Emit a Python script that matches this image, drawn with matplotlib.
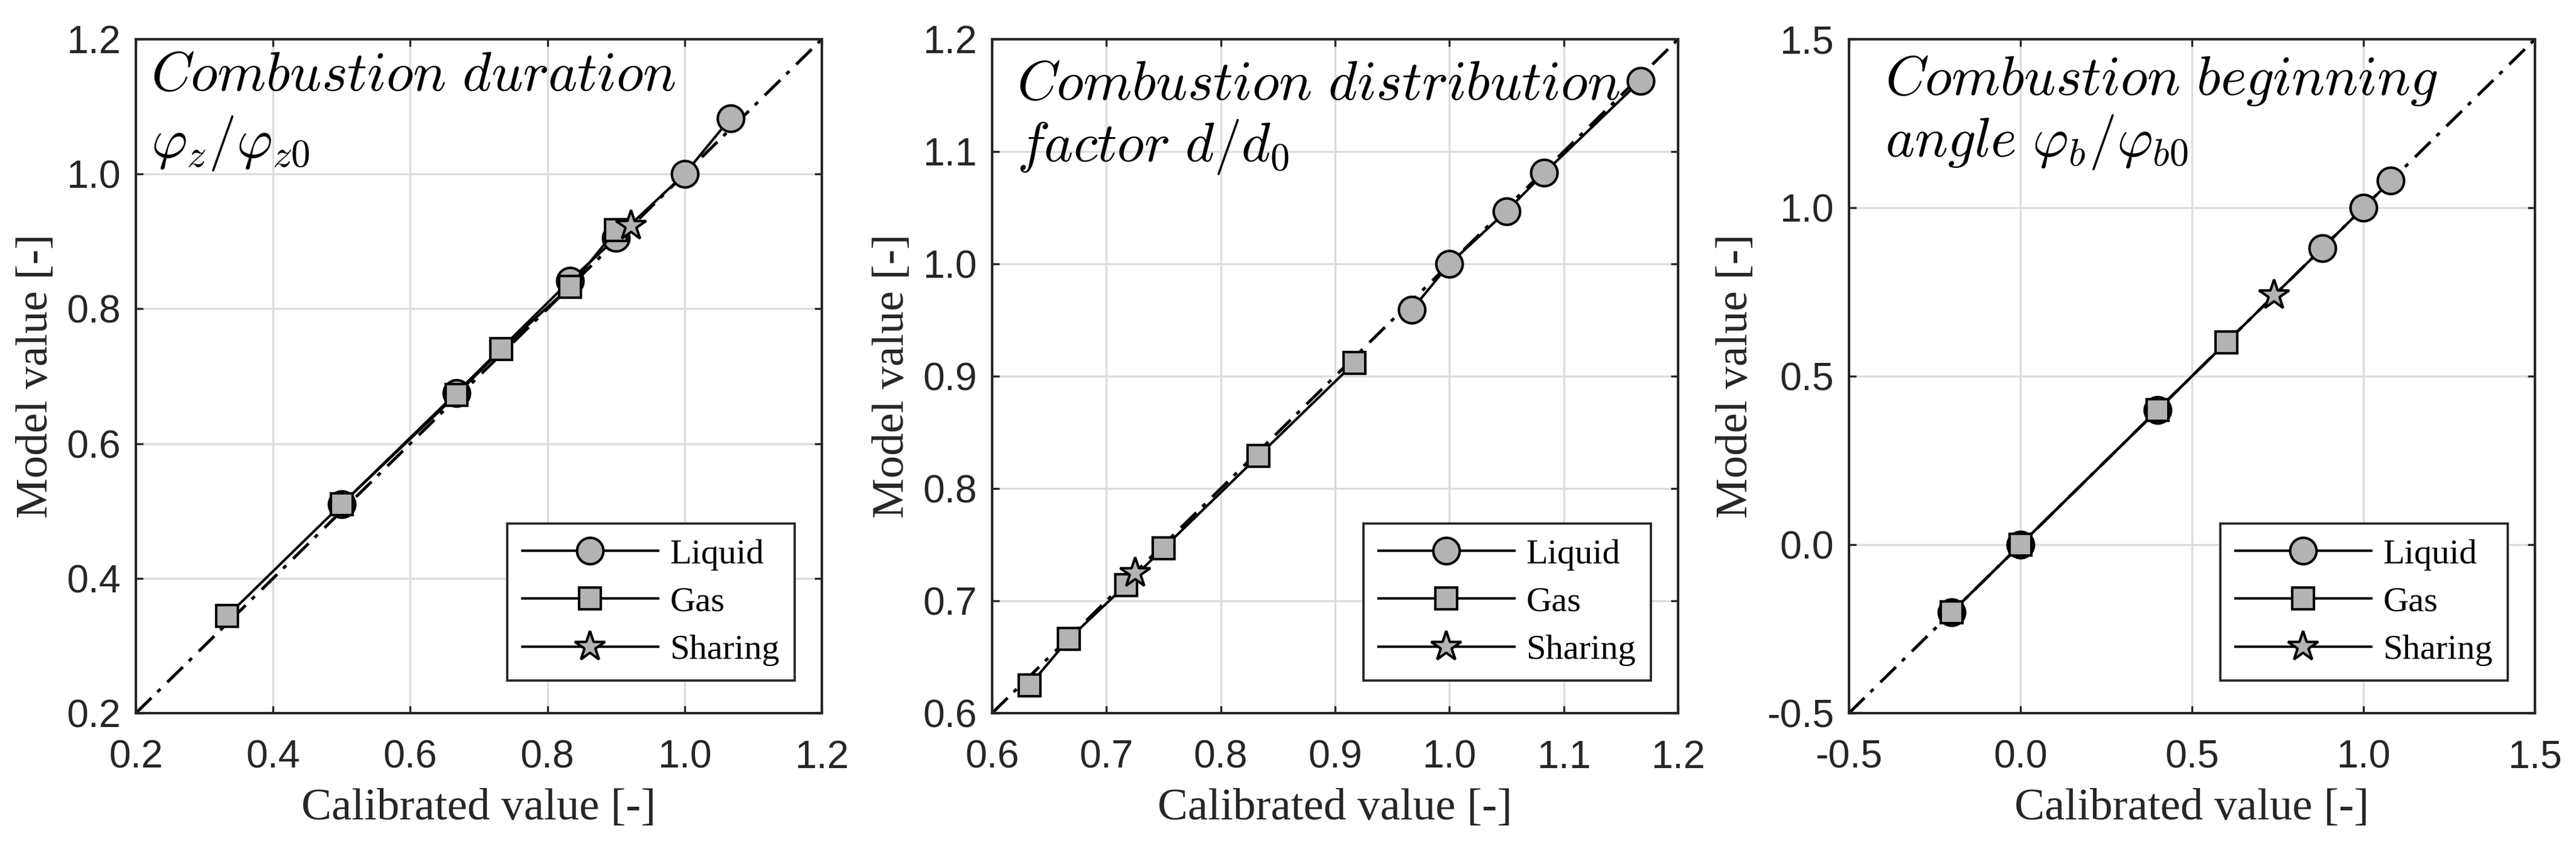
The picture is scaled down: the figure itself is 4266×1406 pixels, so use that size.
import numpy as np
import matplotlib
matplotlib.use("Agg")
import matplotlib.pyplot as plt
from matplotlib.ticker import FormatStrFormatter

plt.rcParams["mathtext.fontset"] = "cm"
plt.rcParams["axes.unicode_minus"] = False

# ---- data ----
# panel 1: combustion duration
p1_liquid_x = [0.500, 0.667, 0.833, 0.900, 1.000, 1.067]
p1_liquid_y = [0.510, 0.675, 0.842, 0.905, 1.000, 1.083]
p1_gas_x = [0.333, 0.500, 0.667, 0.733, 0.833, 0.900]
p1_gas_y = [0.344, 0.510, 0.672, 0.740, 0.833, 0.917]
p1_share_x = [0.922]
p1_share_y = [0.923]

# panel 2: combustion distribution factor
p2_liquid_x = [0.967, 1.000, 1.050, 1.083, 1.167]
p2_liquid_y = [0.959, 1.000, 1.047, 1.081, 1.163]
p2_gas_x = [0.633, 0.667, 0.717, 0.750, 0.833, 0.917]
p2_gas_y = [0.625, 0.666, 0.714, 0.747, 0.829, 0.912]
p2_share_x = [0.725]
p2_share_y = [0.725]

# panel 3: combustion beginning angle
p3_liquid_x = [-0.2, 0.0, 0.4, 0.88, 1.0, 1.08]
p3_liquid_y = [-0.2, 0.0, 0.4, 0.88, 1.0, 1.08]
p3_gas_x = [-0.2, 0.0, 0.4, 0.6]
p3_gas_y = [-0.2, 0.0, 0.4, 0.6]
p3_share_x = [0.74]
p3_share_y = [0.74]

p1_lim = [0.2, 1.2]
p2_lim = [0.6, 1.2]
p3_lim = [-0.5, 1.5]
p1_ticks = [0.2, 0.4, 0.6, 0.8, 1.0, 1.2]
p2_ticks = [0.6, 0.7, 0.8, 0.9, 1.0, 1.1, 1.2]
p3_ticks = [-0.5, 0.0, 0.5, 1.0, 1.5]

p1_text = [r"$Combustion\ duration$", r"$\varphi_z/\varphi_{z0}$"]
p2_text = [r"$Combustion\ distribution$", r"$factor\ d/d_0$"]
p3_text = [r"$Combustion\ beginning$", r"$angle\ \varphi_b/\varphi_{b0}$"]

DARK = "#262626"
FACE = "#b3b3b3"
SERIF = "Liberation Serif"


def draw_panel(ax, lim, ticks, liquid, gas, share, text, text_x, text_y):
    ax.plot(lim, lim, color="k", lw=1.2, dashes=[7.2, 2.8, 1.4, 3.2], zorder=2)
    ax.plot(liquid[0], liquid[1], color="k", lw=1.0, marker="o", ms=10.5,
            mfc=FACE, mec="k", mew=1.0, label="Liquid", zorder=3)
    ax.plot(gas[0], gas[1], color="k", lw=1.0, marker="s", ms=8.6,
            mfc=FACE, mec="k", mew=1.0, label="Gas", zorder=4)
    ax.plot(share[0], share[1], color="k", lw=1.0, marker="*", ms=12.5,
            mfc=FACE, mec="k", mew=1.0, label="Sharing", zorder=5)

    ax.set_xlim(lim)
    ax.set_ylim(lim)
    ax.set_xticks(ticks)
    ax.set_yticks(ticks)
    ax.xaxis.set_major_formatter(FormatStrFormatter("%.1f"))
    ax.yaxis.set_major_formatter(FormatStrFormatter("%.1f"))
    ax.grid(True, color="#dcdcdc", lw=0.8, zorder=0)
    ax.set_axisbelow(True)
    ax.tick_params(axis="both", direction="in", top=True, right=True,
                   length=2.8, width=0.8, color=DARK, labelcolor=DARK,
                   labelsize=15.5)
    ax.tick_params(axis="x", pad=10.5)
    ax.tick_params(axis="y", pad=6)
    for lab in ax.get_xticklabels() + ax.get_yticklabels():
        lab.set_family("Liberation Sans")
    for sp in ax.spines.values():
        sp.set_color(DARK)
        sp.set_linewidth(1.0)

    ax.set_xlabel("Calibrated value [-]", family=SERIF, fontsize=18,
                  color=DARK, labelpad=5)
    ax.set_ylabel("Model value [-]", family=SERIF, fontsize=18,
                  color=DARK, labelpad=4)

    ax.text(text_x, 1 - text_y[0], text[0], transform=ax.transAxes,
            fontsize=22, color="k", va="baseline", ha="left")
    ax.text(text_x, 1 - text_y[1], text[1], transform=ax.transAxes,
            fontsize=22, color="k", va="baseline", ha="left")

    leg = ax.legend(loc="lower right", bbox_to_anchor=(0.96, 0.048),
                    borderaxespad=0, fancybox=False, framealpha=1,
                    edgecolor=DARK, prop={"family": SERIF, "size": 14},
                    handlelength=3.86, handletextpad=0.33, borderpad=0.42,
                    labelspacing=0.45, numpoints=1)
    leg.get_frame().set_linewidth(0.9)


fig = plt.figure(figsize=(4266 / 300, 1406 / 300), dpi=300)
bottom = (1406 - 1181) / 1406
height = 1116 / 1406
width = 1136 / 4266
ax1 = fig.add_axes([225 / 4266, bottom, width, height])
ax2 = fig.add_axes([1643 / 4266, bottom, width, height])
ax3 = fig.add_axes([3062 / 4266, bottom, width, height])

draw_panel(ax1, p1_lim, p1_ticks, (p1_liquid_x, p1_liquid_y),
           (p1_gas_x, p1_gas_y), (p1_share_x, p1_share_y),
           p1_text, 0.022, (0.076, 0.176))
draw_panel(ax2, p2_lim, p2_ticks, (p2_liquid_x, p2_liquid_y),
           (p2_gas_x, p2_gas_y), (p2_share_x, p2_share_y),
           p2_text, 0.036, (0.090, 0.181))
draw_panel(ax3, p3_lim, p3_ticks, (p3_liquid_x, p3_liquid_y),
           (p3_gas_x, p3_gas_y), (p3_share_x, p3_share_y),
           p3_text, 0.053, (0.082, 0.174))

fig.savefig("out.png", dpi=300)
